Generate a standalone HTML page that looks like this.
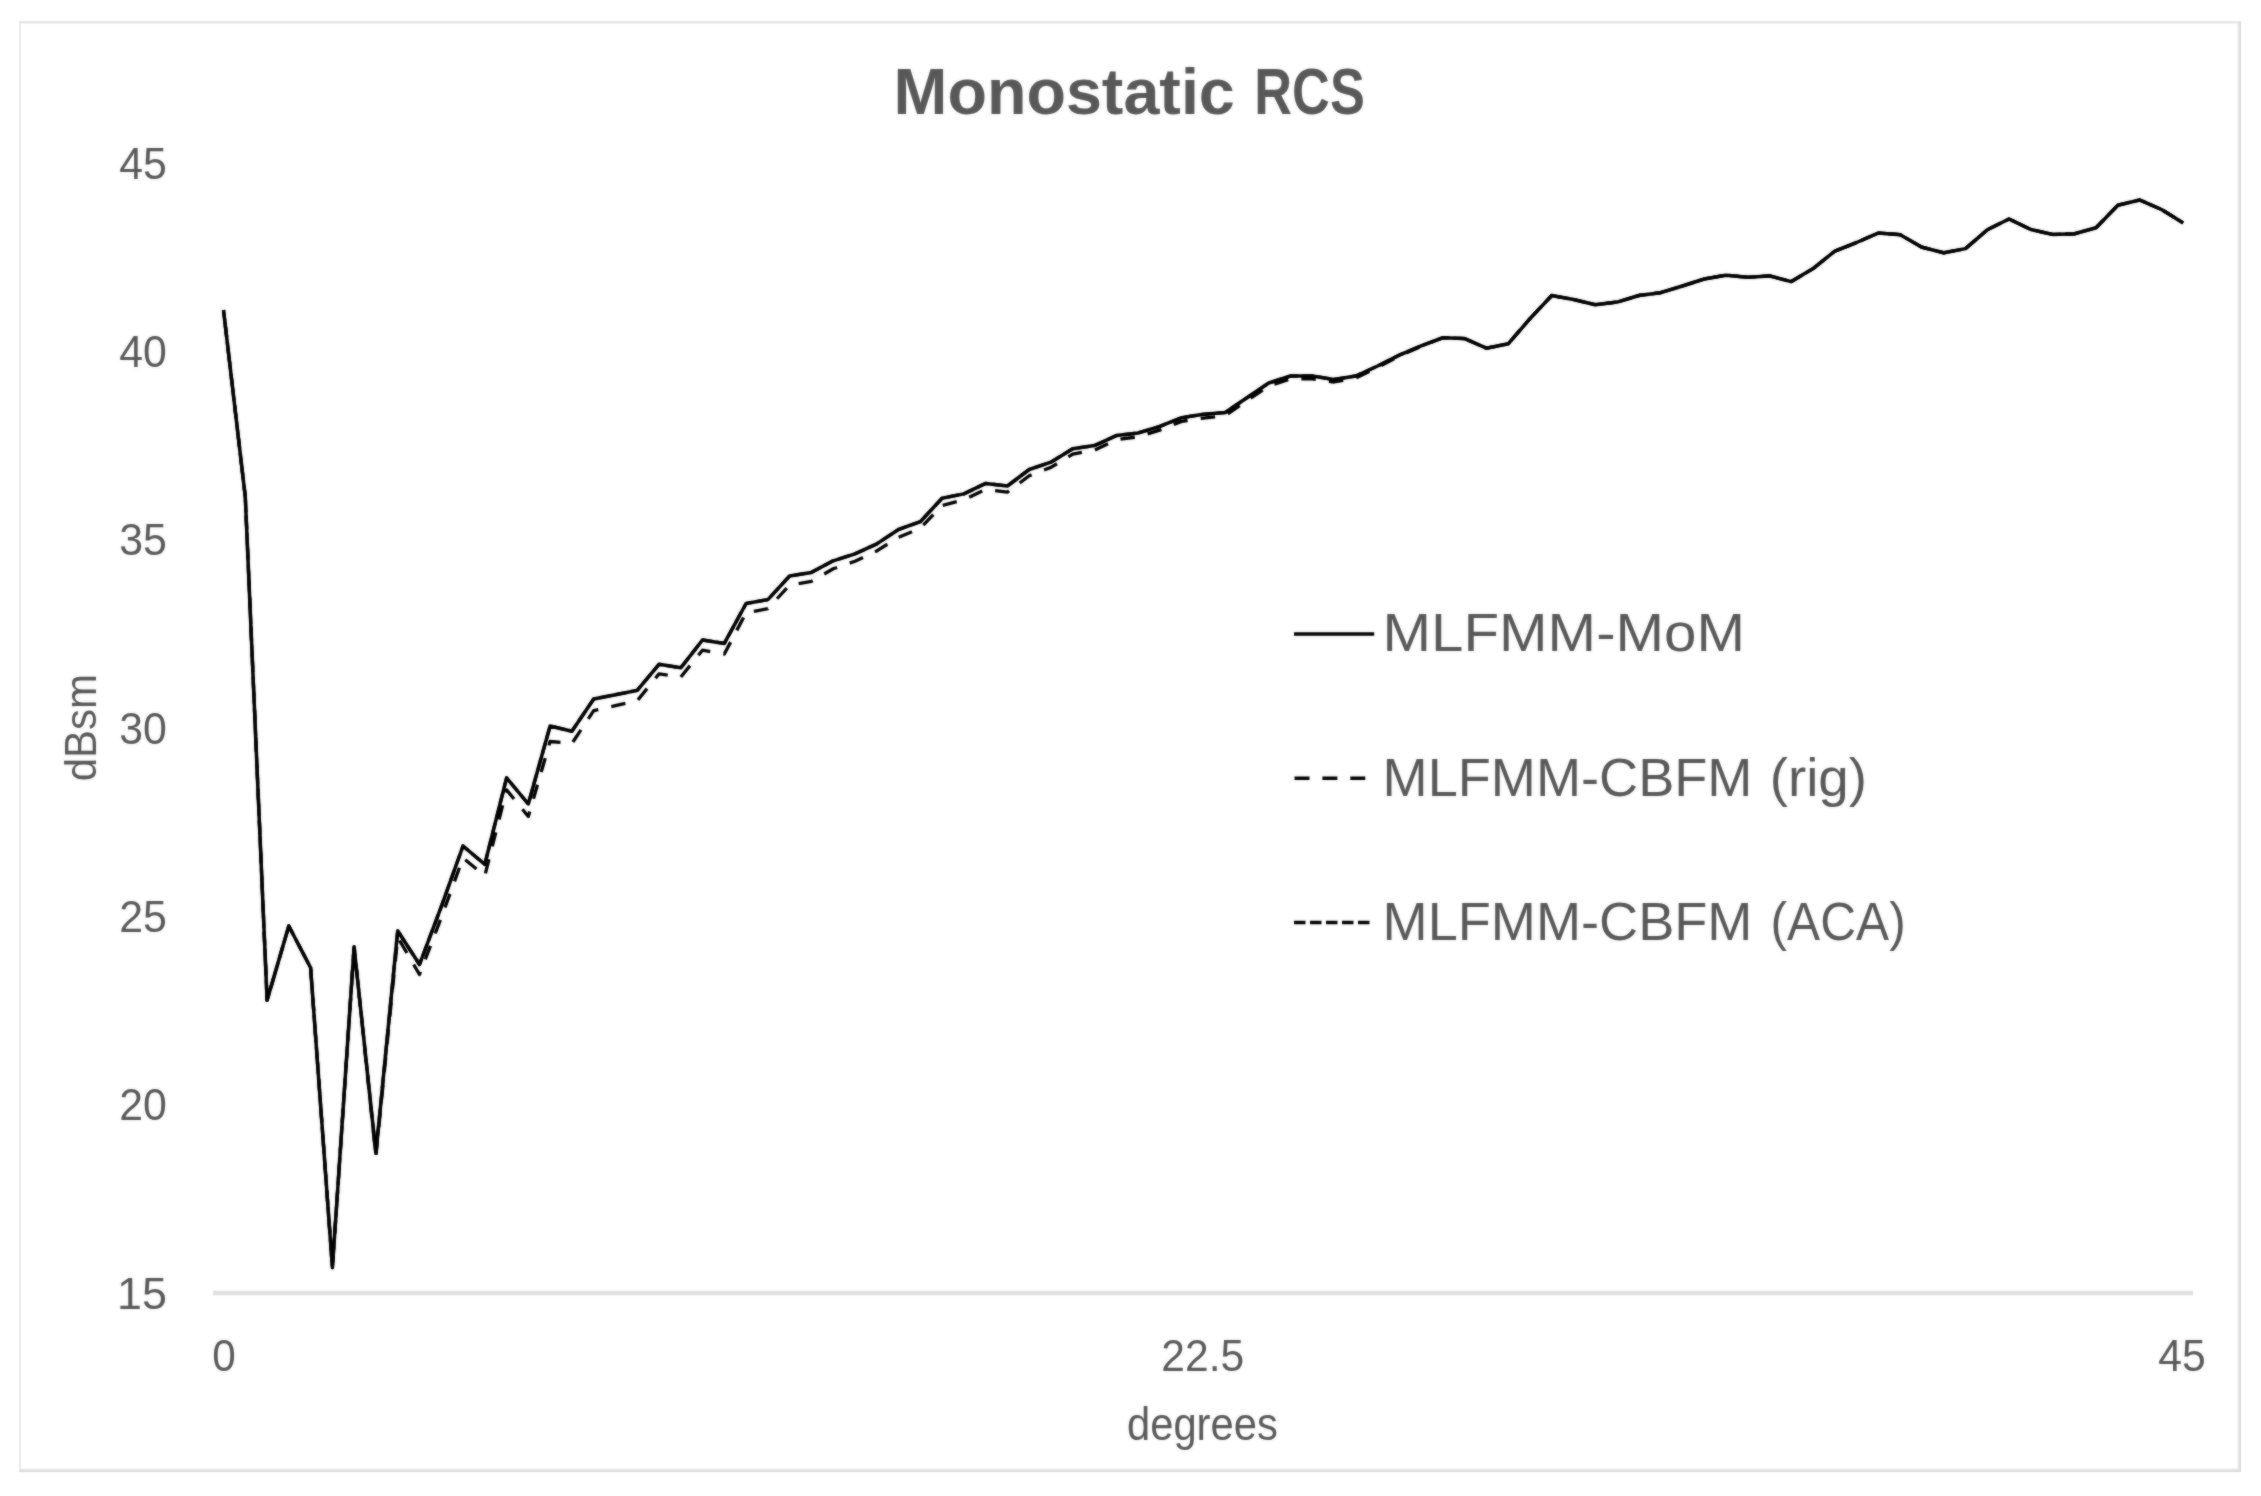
<!DOCTYPE html>
<html lang="en"><head><meta charset="utf-8"><title>Monostatic RCS</title>
<style>
html,body{margin:0;padding:0;background:#fff;}
body{width:2261px;height:1496px;overflow:hidden;}
svg{display:block;}
text{font-family:"Liberation Sans",Arial,sans-serif;fill:#595959;}
</style></head><body>
<svg width="2261" height="1496" viewBox="0 0 2261 1496">
<rect x="0" y="0" width="2261" height="1496" fill="#ffffff"/>
<defs><filter id="soft" filterUnits="userSpaceOnUse" x="0" y="0" width="2261" height="1496"><feGaussianBlur in="SourceGraphic" stdDeviation="0.8" result="b"/><feComposite in="SourceGraphic" in2="b" operator="arithmetic" k1="0" k2="0.5" k3="0.5" k4="0"/></filter></defs>
<g id="chart" filter="url(#soft)">
<!-- chart border -->
<line x1="19" y1="22.2" x2="2241" y2="22.2" stroke="#e0e0e0" stroke-width="2"/>
<line x1="20" y1="21" x2="20" y2="1472" stroke="#e9e9e9" stroke-width="2"/>
<line x1="2238.6" y1="21" x2="2238.6" y2="1471" stroke="#e7e7e7" stroke-width="2"/>
<line x1="2240.2" y1="21" x2="2240.2" y2="1472" stroke="#d8d8d8" stroke-width="1.6"/>
<line x1="19" y1="1469.7" x2="2240" y2="1469.7" stroke="#e7e7e7" stroke-width="2"/>
<line x1="19" y1="1471.3" x2="2241" y2="1471.3" stroke="#d8d8d8" stroke-width="1.6"/>
<!-- x axis line -->
<line x1="213" y1="1293" x2="2193" y2="1293" stroke="#e0e0e0" stroke-width="4.4"/>
<!-- text -->
<g id="labels">
<text y="113.7" font-size="65" font-weight="bold"><tspan x="893.56" textLength="341.26" lengthAdjust="spacingAndGlyphs">Monostatic</tspan> <tspan x="1254.32" textLength="110.51" lengthAdjust="spacingAndGlyphs">RCS</tspan></text>
<text x="1382.51" y="650.9" font-size="54" textLength="362.57" lengthAdjust="spacingAndGlyphs">MLFMM-MoM</text>
<text y="795.6" font-size="54"><tspan x="1382.55" textLength="369.92" lengthAdjust="spacingAndGlyphs">MLFMM-CBFM</tspan> <tspan x="1769.70" textLength="97.39" lengthAdjust="spacingAndGlyphs">(rig)</tspan></text>
<text y="940.2" font-size="54"><tspan x="1382.55" textLength="369.92" lengthAdjust="spacingAndGlyphs">MLFMM-CBFM</tspan> <tspan x="1770.55" textLength="135.13" lengthAdjust="spacingAndGlyphs">(ACA)</tspan></text>
<text x="212.16" y="1370.7" font-size="45" textLength="23.48" lengthAdjust="spacingAndGlyphs">0</text>
<text x="1161.35" y="1370.7" font-size="45" textLength="82.89" lengthAdjust="spacingAndGlyphs">22.5</text>
<text x="2158.19" y="1370.7" font-size="45" textLength="47.47" lengthAdjust="spacingAndGlyphs">45</text>
<text x="1126.99" y="1439.6" font-size="45.5" textLength="150.81" lengthAdjust="spacingAndGlyphs">degrees</text>
<text x="119.19" y="178.5" font-size="45" textLength="47.64" lengthAdjust="spacingAndGlyphs">45</text>
<text x="119.19" y="366.8" font-size="45" textLength="47.62" lengthAdjust="spacingAndGlyphs">40</text>
<text x="119.16" y="555.2" font-size="45" textLength="47.69" lengthAdjust="spacingAndGlyphs">35</text>
<text x="119.16" y="743.5" font-size="45" textLength="47.64" lengthAdjust="spacingAndGlyphs">30</text>
<text x="119.16" y="931.8" font-size="45" textLength="47.69" lengthAdjust="spacingAndGlyphs">25</text>
<text x="119.16" y="1120.2" font-size="45" textLength="47.64" lengthAdjust="spacingAndGlyphs">20</text>
<text x="117.04" y="1308.5" font-size="45" textLength="49.86" lengthAdjust="spacingAndGlyphs">15</text>
<text transform="translate(96.0,781.22) rotate(-90)" font-size="44.7" textLength="107.27" lengthAdjust="spacingAndGlyphs">dBsm</text>
</g>
<!-- series -->
<g fill="none" stroke="#000" stroke-width="3.5" stroke-linejoin="round" stroke-linecap="butt">
<polyline id="aca" stroke-width="3.3" stroke-dasharray="11.5 4.5" points="223.5,310.0 245.3,497.0 267.1,1000.3 288.8,926.0 310.6,967.7 332.4,1267.7 354.1,946.8 375.9,1153.3 397.7,930.8 419.5,964.5 441.2,906.9 463.0,846.0 484.8,864.3 506.6,777.9 528.3,804.0 550.1,726.0 571.9,731.2 593.7,699.0 615.5,694.7 637.2,690.4 659.0,664.3 680.8,667.8 702.5,640.0 724.3,643.4 746.1,603.5 767.9,599.6 789.6,576.0 811.4,572.4 833.2,560.8 855.0,553.8 876.8,543.9 898.5,529.5 920.3,521.7 942.1,498.2 963.8,493.9 985.6,483.4 1007.4,486.0 1029.2,469.5 1050.9,462.2 1072.7,448.7 1094.5,445.6 1116.3,435.6 1138.0,433.0 1159.8,426.4 1181.6,417.7 1203.4,414.3 1225.2,412.5 1246.9,397.8 1268.7,383.0 1290.5,376.0 1312.2,376.0 1334.0,379.5 1355.8,376.0 1377.6,366.0 1399.3,355.1 1421.1,345.9 1442.9,337.7 1464.7,338.6 1486.4,348.2 1508.2,343.8 1530.0,318.6 1551.8,295.5 1573.5,299.5 1595.3,304.7 1617.1,302.1 1638.9,295.5 1660.6,292.7 1682.4,286.0 1704.2,279.0 1726.0,275.2 1747.8,277.3 1769.5,275.9 1791.3,281.6 1813.1,268.6 1834.8,251.2 1856.6,242.5 1878.4,233.0 1900.2,234.7 1921.9,247.2 1943.7,252.8 1965.5,248.6 1987.3,229.8 2009.0,219.0 2030.8,229.5 2052.6,234.4 2074.4,233.8 2096.1,227.7 2117.9,205.2 2139.7,200.0 2161.5,209.5 2183.2,222.9"/>
<polyline id="rig" stroke-width="3.3" stroke-dasharray="14.5 13.28" stroke-dashoffset="15.7" points="223.5,310.0 245.3,497.0 267.1,1000.3 288.8,926.0 310.6,967.7 332.4,1267.7 354.1,946.8 375.9,1156.3 397.7,937.3 419.5,974.5 441.2,917.9 463.0,858.0 484.8,875.8 506.6,789.9 528.3,816.5 550.1,741.5 571.9,743.5 593.7,710.7 615.5,705.7 637.2,700.8 659.0,673.9 680.8,677.0 702.5,650.2 724.3,654.1 746.1,612.8 767.9,608.7 789.6,585.0 811.4,581.4 833.2,568.8 855.0,561.3 876.8,550.9 898.5,537.3 920.3,528.2 942.1,505.5 963.8,499.9 985.6,489.4 1007.4,492.2 1029.2,475.8 1050.9,467.4 1072.7,454.2 1094.5,450.1 1116.3,439.8 1138.0,436.8 1159.8,430.1 1181.6,421.4 1203.4,418.1 1225.2,415.7 1246.9,400.8 1268.7,386.0 1290.5,378.8 1312.2,378.8 1334.0,382.0 1355.8,378.0 1377.6,367.5 1399.3,356.1 1421.1,346.4 1442.9,337.7 1464.7,338.6 1486.4,348.2 1508.2,343.8 1530.0,318.6 1551.8,295.5 1573.5,299.5 1595.3,304.7 1617.1,302.1 1638.9,295.5 1660.6,292.7 1682.4,286.0 1704.2,279.0 1726.0,275.2 1747.8,277.3 1769.5,275.9 1791.3,281.6 1813.1,268.6 1834.8,251.2 1856.6,242.5 1878.4,233.0 1900.2,234.7 1921.9,247.2 1943.7,252.8 1965.5,248.6 1987.3,229.8 2009.0,219.0 2030.8,229.5 2052.6,234.4 2074.4,233.8 2096.1,227.7 2117.9,205.2 2139.7,200.0 2161.5,209.5 2183.2,222.9"/>
<polyline id="mom" points="223.5,310.0 245.3,497.0 267.1,1000.3 288.8,926.0 310.6,967.7 332.4,1267.7 354.1,946.8 375.9,1153.3 397.7,930.8 419.5,964.5 441.2,906.9 463.0,846.0 484.8,864.3 506.6,777.9 528.3,804.0 550.1,726.0 571.9,731.2 593.7,699.0 615.5,694.7 637.2,690.4 659.0,664.3 680.8,667.8 702.5,640.0 724.3,643.4 746.1,603.5 767.9,599.6 789.6,576.0 811.4,572.4 833.2,560.8 855.0,553.8 876.8,543.9 898.5,529.5 920.3,521.7 942.1,498.2 963.8,493.9 985.6,483.4 1007.4,486.0 1029.2,469.5 1050.9,462.2 1072.7,448.7 1094.5,445.6 1116.3,435.6 1138.0,433.0 1159.8,426.4 1181.6,417.7 1203.4,414.3 1225.2,412.5 1246.9,397.8 1268.7,383.0 1290.5,376.0 1312.2,376.0 1334.0,379.5 1355.8,376.0 1377.6,366.0 1399.3,355.1 1421.1,345.9 1442.9,337.7 1464.7,338.6 1486.4,348.2 1508.2,343.8 1530.0,318.6 1551.8,295.5 1573.5,299.5 1595.3,304.7 1617.1,302.1 1638.9,295.5 1660.6,292.7 1682.4,286.0 1704.2,279.0 1726.0,275.2 1747.8,277.3 1769.5,275.9 1791.3,281.6 1813.1,268.6 1834.8,251.2 1856.6,242.5 1878.4,233.0 1900.2,234.7 1921.9,247.2 1943.7,252.8 1965.5,248.6 1987.3,229.8 2009.0,219.0 2030.8,229.5 2052.6,234.4 2074.4,233.8 2096.1,227.7 2117.9,205.2 2139.7,200.0 2161.5,209.5 2183.2,222.9"/>
</g>
<!-- legend keys -->
<g fill="none" stroke="#000" stroke-width="3.5">
<line x1="1294" y1="634" x2="1374.2" y2="634"/>
<line x1="1294.5" y1="778.3" x2="1374" y2="778.3" stroke-dasharray="15 12.9"/>
<line x1="1294" y1="922.6" x2="1370" y2="922.6" stroke-dasharray="11.5 4.5"/>
</g>
</g>
</svg>
</body></html>
